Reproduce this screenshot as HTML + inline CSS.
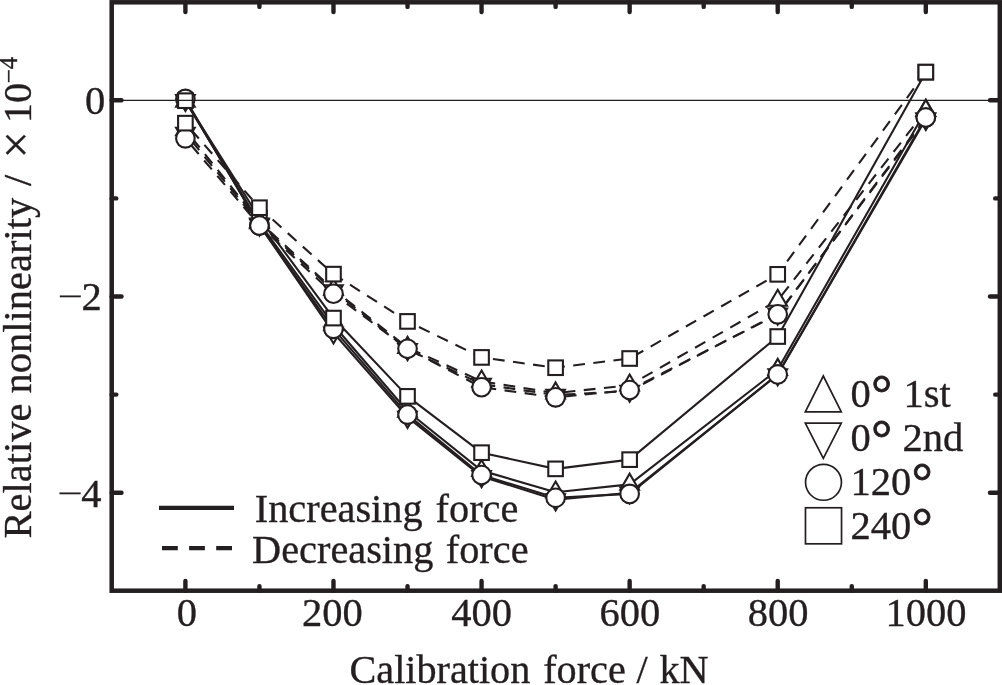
<!DOCTYPE html>
<html lang="en">
<head>
<meta charset="utf-8">
<title>Relative nonlinearity vs calibration force</title>
<style>
html,body{margin:0;padding:0;background:#fff;}
body{width:1002px;height:685px;overflow:hidden;}
svg{display:block;}
text{font-family:"Liberation Serif","Times New Roman",serif;fill:#231f20;stroke:#231f20;stroke-width:0.35px;}
</style>
</head>
<body>
<svg width="1002" height="685" viewBox="0 0 1002 685">
<rect x="0" y="0" width="1002" height="685" fill="#fff"/>

<g fill="none" stroke="#231f20" stroke-width="2.1" stroke-linejoin="round">
<polyline points="185.4,101.28 259.44,222.93 333.48,324.95 407.52,411.28 481.56,470.63 555.6,492.21 629.64,484.36 777.72,369.58 925.8,110.6"/>
<polyline points="185.4,100.3 259.44,224.89 333.48,332.8 407.52,417.16 481.56,476.42 555.6,499.76 629.64,492.7 777.72,374.59 925.8,118.94"/>
<polyline points="185.4,98.93 259.44,225.48 333.48,328.87 407.52,414.61 481.56,475.04 555.6,497.8 629.64,493.88 777.72,374.39 925.8,117.47"/>
<polyline points="185.4,100.69 259.44,218.02 333.48,318.08 407.52,396.37 481.56,452.68 555.6,468.86 629.64,459.64 777.72,336.52 925.8,72.15"/>
<polyline points="925.8,110.6 777.72,300.42 629.64,385.18 555.6,393.13 481.56,381.26 407.52,347.51 333.48,289.63 259.44,221.94 185.4,129.73" stroke-dasharray="11.8 8.46"/>
<polyline points="925.8,118.94 777.72,313.86 629.64,391.07 555.6,395.09 481.56,384.1 407.52,349.47 333.48,290.61 259.44,223.91 185.4,133.26" stroke-dasharray="11.8 8.46"/>
<polyline points="925.8,117.47 777.72,314.35 629.64,389.99 555.6,397.35 481.56,387.24 407.52,348.79 333.48,293.75 259.44,225.48 185.4,138.36" stroke-dasharray="11.8 8.46"/>
<polyline points="925.8,72.15 777.72,274.33 629.64,358.5 555.6,367.72 481.56,357.42 407.52,321.42 333.48,274.13 259.44,207.72 185.4,123.16" stroke-dasharray="11.8 8.46"/>
</g>
<g>
<polygon points="185.4,90.58 194.7,106.63 176.1,106.63" fill="#fff" stroke="#231f20" stroke-width="2.1" stroke-linejoin="miter"/>
<polygon points="259.44,212.23 268.74,228.28 250.14,228.28" fill="#fff" stroke="#231f20" stroke-width="2.1" stroke-linejoin="miter"/>
<polygon points="333.48,314.25 342.78,330.3 324.18,330.3" fill="#fff" stroke="#231f20" stroke-width="2.1" stroke-linejoin="miter"/>
<polygon points="407.52,400.58 416.82,416.63 398.22,416.63" fill="#fff" stroke="#231f20" stroke-width="2.1" stroke-linejoin="miter"/>
<polygon points="481.56,459.93 490.86,475.98 472.26,475.98" fill="#fff" stroke="#231f20" stroke-width="2.1" stroke-linejoin="miter"/>
<polygon points="555.6,481.51 564.9,497.56 546.3,497.56" fill="#fff" stroke="#231f20" stroke-width="2.1" stroke-linejoin="miter"/>
<polygon points="629.64,473.66 638.94,489.71 620.34,489.71" fill="#fff" stroke="#231f20" stroke-width="2.1" stroke-linejoin="miter"/>
<polygon points="777.72,358.88 787.02,374.93 768.42,374.93" fill="#fff" stroke="#231f20" stroke-width="2.1" stroke-linejoin="miter"/>
<polygon points="925.8,99.9 935.1,115.95 916.5,115.95" fill="#fff" stroke="#231f20" stroke-width="2.1" stroke-linejoin="miter"/>
<polygon points="185.4,111 194.7,94.95 176.1,94.95" fill="#fff" stroke="#231f20" stroke-width="2.1" stroke-linejoin="miter"/>
<polygon points="259.44,235.59 268.74,219.54 250.14,219.54" fill="#fff" stroke="#231f20" stroke-width="2.1" stroke-linejoin="miter"/>
<polygon points="333.48,343.5 342.78,327.45 324.18,327.45" fill="#fff" stroke="#231f20" stroke-width="2.1" stroke-linejoin="miter"/>
<polygon points="407.52,427.86 416.82,411.81 398.22,411.81" fill="#fff" stroke="#231f20" stroke-width="2.1" stroke-linejoin="miter"/>
<polygon points="481.56,487.12 490.86,471.07 472.26,471.07" fill="#fff" stroke="#231f20" stroke-width="2.1" stroke-linejoin="miter"/>
<polygon points="555.6,510.46 564.9,494.41 546.3,494.41" fill="#fff" stroke="#231f20" stroke-width="2.1" stroke-linejoin="miter"/>
<polygon points="629.64,503.4 638.94,487.35 620.34,487.35" fill="#fff" stroke="#231f20" stroke-width="2.1" stroke-linejoin="miter"/>
<polygon points="777.72,385.29 787.02,369.24 768.42,369.24" fill="#fff" stroke="#231f20" stroke-width="2.1" stroke-linejoin="miter"/>
<polygon points="925.8,129.64 935.1,113.59 916.5,113.59" fill="#fff" stroke="#231f20" stroke-width="2.1" stroke-linejoin="miter"/>
<circle cx="185.4" cy="98.93" r="9.3" fill="#fff" stroke="#231f20" stroke-width="2.1"/>
<circle cx="259.44" cy="225.48" r="9.3" fill="#fff" stroke="#231f20" stroke-width="2.1"/>
<circle cx="333.48" cy="328.87" r="9.3" fill="#fff" stroke="#231f20" stroke-width="2.1"/>
<circle cx="407.52" cy="414.61" r="9.3" fill="#fff" stroke="#231f20" stroke-width="2.1"/>
<circle cx="481.56" cy="475.04" r="9.3" fill="#fff" stroke="#231f20" stroke-width="2.1"/>
<circle cx="555.6" cy="497.8" r="9.3" fill="#fff" stroke="#231f20" stroke-width="2.1"/>
<circle cx="629.64" cy="493.88" r="9.3" fill="#fff" stroke="#231f20" stroke-width="2.1"/>
<circle cx="777.72" cy="374.39" r="9.3" fill="#fff" stroke="#231f20" stroke-width="2.1"/>
<circle cx="925.8" cy="117.47" r="9.3" fill="#fff" stroke="#231f20" stroke-width="2.1"/>
<rect x="178.1" y="93.39" width="14.6" height="14.6" fill="#fff" stroke="#231f20" stroke-width="2.1"/>
<rect x="252.14" y="210.72" width="14.6" height="14.6" fill="#fff" stroke="#231f20" stroke-width="2.1"/>
<rect x="326.18" y="310.78" width="14.6" height="14.6" fill="#fff" stroke="#231f20" stroke-width="2.1"/>
<rect x="400.22" y="389.07" width="14.6" height="14.6" fill="#fff" stroke="#231f20" stroke-width="2.1"/>
<rect x="474.26" y="445.38" width="14.6" height="14.6" fill="#fff" stroke="#231f20" stroke-width="2.1"/>
<rect x="548.3" y="461.56" width="14.6" height="14.6" fill="#fff" stroke="#231f20" stroke-width="2.1"/>
<rect x="622.34" y="452.34" width="14.6" height="14.6" fill="#fff" stroke="#231f20" stroke-width="2.1"/>
<rect x="770.42" y="329.22" width="14.6" height="14.6" fill="#fff" stroke="#231f20" stroke-width="2.1"/>
<rect x="918.5" y="64.85" width="14.6" height="14.6" fill="#fff" stroke="#231f20" stroke-width="2.1"/>
<polygon points="185.4,119.03 194.7,135.08 176.1,135.08" fill="#fff" stroke="#231f20" stroke-width="2.1" stroke-linejoin="miter"/>
<polygon points="259.44,211.24 268.74,227.29 250.14,227.29" fill="#fff" stroke="#231f20" stroke-width="2.1" stroke-linejoin="miter"/>
<polygon points="333.48,278.93 342.78,294.98 324.18,294.98" fill="#fff" stroke="#231f20" stroke-width="2.1" stroke-linejoin="miter"/>
<polygon points="407.52,336.81 416.82,352.86 398.22,352.86" fill="#fff" stroke="#231f20" stroke-width="2.1" stroke-linejoin="miter"/>
<polygon points="481.56,370.56 490.86,386.61 472.26,386.61" fill="#fff" stroke="#231f20" stroke-width="2.1" stroke-linejoin="miter"/>
<polygon points="555.6,382.43 564.9,398.48 546.3,398.48" fill="#fff" stroke="#231f20" stroke-width="2.1" stroke-linejoin="miter"/>
<polygon points="629.64,374.48 638.94,390.53 620.34,390.53" fill="#fff" stroke="#231f20" stroke-width="2.1" stroke-linejoin="miter"/>
<polygon points="777.72,289.72 787.02,305.77 768.42,305.77" fill="#fff" stroke="#231f20" stroke-width="2.1" stroke-linejoin="miter"/>
<polygon points="925.8,99.9 935.1,115.95 916.5,115.95" fill="#fff" stroke="#231f20" stroke-width="2.1" stroke-linejoin="miter"/>
<polygon points="185.4,143.96 194.7,127.91 176.1,127.91" fill="#fff" stroke="#231f20" stroke-width="2.1" stroke-linejoin="miter"/>
<polygon points="259.44,234.61 268.74,218.56 250.14,218.56" fill="#fff" stroke="#231f20" stroke-width="2.1" stroke-linejoin="miter"/>
<polygon points="333.48,301.31 342.78,285.26 324.18,285.26" fill="#fff" stroke="#231f20" stroke-width="2.1" stroke-linejoin="miter"/>
<polygon points="407.52,360.17 416.82,344.12 398.22,344.12" fill="#fff" stroke="#231f20" stroke-width="2.1" stroke-linejoin="miter"/>
<polygon points="481.56,394.8 490.86,378.75 472.26,378.75" fill="#fff" stroke="#231f20" stroke-width="2.1" stroke-linejoin="miter"/>
<polygon points="555.6,405.79 564.9,389.74 546.3,389.74" fill="#fff" stroke="#231f20" stroke-width="2.1" stroke-linejoin="miter"/>
<polygon points="629.64,401.77 638.94,385.72 620.34,385.72" fill="#fff" stroke="#231f20" stroke-width="2.1" stroke-linejoin="miter"/>
<polygon points="777.72,324.56 787.02,308.51 768.42,308.51" fill="#fff" stroke="#231f20" stroke-width="2.1" stroke-linejoin="miter"/>
<polygon points="925.8,129.64 935.1,113.59 916.5,113.59" fill="#fff" stroke="#231f20" stroke-width="2.1" stroke-linejoin="miter"/>
<circle cx="185.4" cy="138.36" r="9.3" fill="#fff" stroke="#231f20" stroke-width="2.1"/>
<circle cx="259.44" cy="225.48" r="9.3" fill="#fff" stroke="#231f20" stroke-width="2.1"/>
<circle cx="333.48" cy="293.75" r="9.3" fill="#fff" stroke="#231f20" stroke-width="2.1"/>
<circle cx="407.52" cy="348.79" r="9.3" fill="#fff" stroke="#231f20" stroke-width="2.1"/>
<circle cx="481.56" cy="387.24" r="9.3" fill="#fff" stroke="#231f20" stroke-width="2.1"/>
<circle cx="555.6" cy="397.35" r="9.3" fill="#fff" stroke="#231f20" stroke-width="2.1"/>
<circle cx="629.64" cy="389.99" r="9.3" fill="#fff" stroke="#231f20" stroke-width="2.1"/>
<circle cx="777.72" cy="314.35" r="9.3" fill="#fff" stroke="#231f20" stroke-width="2.1"/>
<circle cx="925.8" cy="117.47" r="9.3" fill="#fff" stroke="#231f20" stroke-width="2.1"/>
<rect x="178.1" y="115.86" width="14.6" height="14.6" fill="#fff" stroke="#231f20" stroke-width="2.1"/>
<rect x="252.14" y="200.42" width="14.6" height="14.6" fill="#fff" stroke="#231f20" stroke-width="2.1"/>
<rect x="326.18" y="266.83" width="14.6" height="14.6" fill="#fff" stroke="#231f20" stroke-width="2.1"/>
<rect x="400.22" y="314.12" width="14.6" height="14.6" fill="#fff" stroke="#231f20" stroke-width="2.1"/>
<rect x="474.26" y="350.12" width="14.6" height="14.6" fill="#fff" stroke="#231f20" stroke-width="2.1"/>
<rect x="548.3" y="360.42" width="14.6" height="14.6" fill="#fff" stroke="#231f20" stroke-width="2.1"/>
<rect x="622.34" y="351.2" width="14.6" height="14.6" fill="#fff" stroke="#231f20" stroke-width="2.1"/>
<rect x="770.42" y="267.03" width="14.6" height="14.6" fill="#fff" stroke="#231f20" stroke-width="2.1"/>
<rect x="918.5" y="64.85" width="14.6" height="14.6" fill="#fff" stroke="#231f20" stroke-width="2.1"/>
</g>
<line x1="112" y1="100.3" x2="999" y2="100.3" stroke="#231f20" stroke-width="1.3"/>
<rect x="111.7" y="2.3" width="888.1" height="588.4" fill="none" stroke="#231f20" stroke-width="4.5"/>
<g stroke="#231f20" stroke-width="4.4" stroke-linecap="round">
<line x1="185.4" y1="2.3" x2="185.4" y2="12.1"/>
<line x1="185.4" y1="590.7" x2="185.4" y2="580.9"/>
<line x1="259.44" y1="2.3" x2="259.44" y2="6.9"/>
<line x1="259.44" y1="590.7" x2="259.44" y2="586.1"/>
<line x1="333.48" y1="2.3" x2="333.48" y2="12.1"/>
<line x1="333.48" y1="590.7" x2="333.48" y2="580.9"/>
<line x1="407.52" y1="2.3" x2="407.52" y2="6.9"/>
<line x1="407.52" y1="590.7" x2="407.52" y2="586.1"/>
<line x1="481.56" y1="2.3" x2="481.56" y2="12.1"/>
<line x1="481.56" y1="590.7" x2="481.56" y2="580.9"/>
<line x1="555.6" y1="2.3" x2="555.6" y2="6.9"/>
<line x1="555.6" y1="590.7" x2="555.6" y2="586.1"/>
<line x1="629.64" y1="2.3" x2="629.64" y2="12.1"/>
<line x1="629.64" y1="590.7" x2="629.64" y2="580.9"/>
<line x1="703.68" y1="2.3" x2="703.68" y2="6.9"/>
<line x1="703.68" y1="590.7" x2="703.68" y2="586.1"/>
<line x1="777.72" y1="2.3" x2="777.72" y2="12.1"/>
<line x1="777.72" y1="590.7" x2="777.72" y2="580.9"/>
<line x1="851.76" y1="2.3" x2="851.76" y2="6.9"/>
<line x1="851.76" y1="590.7" x2="851.76" y2="586.1"/>
<line x1="925.8" y1="2.3" x2="925.8" y2="12.1"/>
<line x1="925.8" y1="590.7" x2="925.8" y2="580.9"/>
<line x1="111.7" y1="492.7" x2="121.5" y2="492.7"/>
<line x1="999.8" y1="492.7" x2="990" y2="492.7"/>
<line x1="111.7" y1="394.6" x2="116.3" y2="394.6"/>
<line x1="999.8" y1="394.6" x2="995.2" y2="394.6"/>
<line x1="111.7" y1="296.5" x2="121.5" y2="296.5"/>
<line x1="999.8" y1="296.5" x2="990" y2="296.5"/>
<line x1="111.7" y1="198.4" x2="116.3" y2="198.4"/>
<line x1="999.8" y1="198.4" x2="995.2" y2="198.4"/>
<line x1="111.7" y1="100.3" x2="121.5" y2="100.3"/>
<line x1="999.8" y1="100.3" x2="990" y2="100.3"/>
</g>
<g font-size="40.5" text-anchor="middle">
<text x="186.8" y="625.6">0</text>
<text x="332.48" y="625.6">200</text>
<text x="481.56" y="625.6">400</text>
<text x="629.94" y="625.6">600</text>
<text x="778.02" y="625.6">800</text>
<text x="926.1" y="625.6">1000</text>
</g>
<g font-size="40.5">
<text x="84.9" y="113.9">0</text>
<text transform="translate(70.45 296.45) scale(1.1 0.72) translate(-70.45 -296.45)" x="59.0" y="309.9" stroke-width="0">−</text>
<text x="81.4" y="309.9">2</text>
<text transform="translate(70.05 493.05) scale(1.1 0.72) translate(-70.05 -493.05)" x="58.6" y="506.5" stroke-width="0">−</text>
<text x="81.2" y="506.5">4</text>
</g>
<text y="683.3" font-size="40.2"><tspan x="349.5">Calibration</tspan> <tspan x="543.2">force</tspan> <tspan x="636.5">/</tspan> <tspan x="659.4">kN</tspan></text>
<g transform="translate(30.6 538.5) rotate(-90)" font-size="40.5">
<text x="0" y="0">Relative nonlinearity</text>
<text x="352.6" y="0" stroke-width="0">/</text>
<text x="380.2" y="1.4" font-size="48" stroke="#fff" stroke-width="0.7">×</text>
<text x="415.4" y="0" font-size="40">10</text>
<text x="455.2" y="-13.2" font-size="25">−4</text>
</g>
<line x1="159" y1="507.8" x2="234" y2="507.8" stroke="#231f20" stroke-width="4.2"/>
<line x1="162" y1="548.2" x2="234" y2="548.2" stroke="#231f20" stroke-width="4.2" stroke-dasharray="15.8 11.3"/>
<text y="522.3" font-size="40.3"><tspan x="254.8">Increasing</tspan> <tspan x="435.6">force</tspan></text>
<text y="563" font-size="40.3"><tspan x="252.1">Decreasing</tspan> <tspan x="445.8">force</tspan></text>
<polygon points="823.3,376 841.3,411.9 805.3,411.9" fill="#fff" stroke="#231f20" stroke-width="1.7"/>
<polygon points="823.3,458.3 841.3,423.1 805.3,423.1" fill="#fff" stroke="#231f20" stroke-width="1.7"/>
<circle cx="823.5" cy="482.3" r="17.95" fill="#fff" stroke="#231f20" stroke-width="1.7"/>
<rect x="805.47" y="507.77" width="36.06" height="36.06" fill="#fff" stroke="#231f20" stroke-width="1.7"/>
<g font-size="40.5">
<text x="850.5" y="406.5">0<tspan font-size="52" dy="4.9" dx="0.6" stroke="#231f20" stroke-width="0.9">°</tspan><tspan dy="-4.9" x="903.5">1st</tspan></text>
<text x="850.5" y="451">0<tspan font-size="52" dy="4.9" dx="0.6" stroke="#231f20" stroke-width="0.9">°</tspan><tspan dy="-4.9" x="902.5">2nd</tspan></text>
<text x="850.5" y="494.5">120<tspan font-size="52" dy="4.9" dx="0.6" stroke="#231f20" stroke-width="0.9">°</tspan></text>
<text x="850.5" y="539.2">240<tspan font-size="52" dy="4.9" dx="0.6" stroke="#231f20" stroke-width="0.9">°</tspan></text>
</g>
</svg>
</body>
</html>
